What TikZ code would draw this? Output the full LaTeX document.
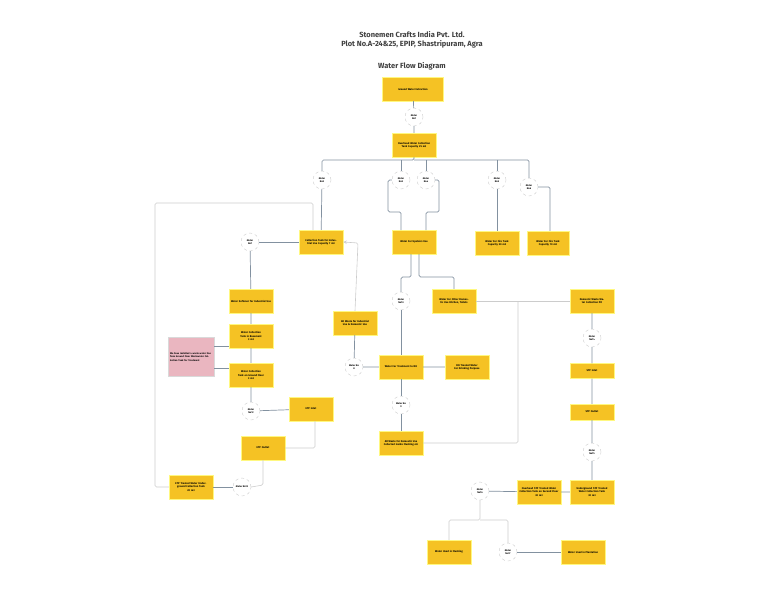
\documentclass[tikz,border=0pt]{standalone}
\usepackage{fontspec}
\setmainfont{Fira Sans}
\begin{document}
\begin{tikzpicture}[x=1bp,y=-1bp,
 box/.style={draw=yellow!50!white,fill={rgb,255:red,245;green,194;blue,36},minimum width=44bp,minimum height=24bp,inner sep=1bp,align=center,font=\fontsize{2.6}{3.2}\selectfont\bfseries,text width=40bp},
 mtr/.style={circle,draw=gray!40,dashed,fill=white,minimum size=18bp,inner sep=0pt,align=center,font=\fontsize{2.4}{3}\selectfont\bfseries},
 ln/.style={draw={rgb,255:red,130;green,145;blue,160},line width=0.7bp,rounded corners=1.5bp},
 lt/.style={draw=gray!40,line width=0.6bp,rounded corners=1.5bp}]
\useasboundingbox (0,0) rectangle (768,594);
\node[font=\fontsize{7.5}{9}\selectfont\bfseries,text=black!75,align=center] (t1) at (412,40) {Stonemen Crafts India Pvt. Ltd.\\Plot No.A-24\&25, EPIP, Shastripuram, Agra};
\node[font=\fontsize{7.5}{9}\selectfont\bfseries,text=black!75] (t2) at (412,66) {Water Flow Diagram};
\node[box,minimum width=61bp] (A) at (413,89) {Ground Water Extraction};
\node[mtr] (m1) at (414,117) {Meter\\No1};
\node[box] (B) at (414,145) {Overhead Water Collection\\Tank Capacity 25 m3};
\node[mtr] (m2) at (322,180) {Meter\\No2};
\node[mtr] (m3) at (401,180) {Meter\\No3};
\node[mtr] (m4) at (426,180) {Meter\\No4};
\node[mtr] (m5) at (497,180) {Meter\\No5};
\node[mtr] (m6) at (529,187) {Meter\\No6};
\node[box] (C) at (321,242) {Collection Tank for Industrial Use Capacity 7 m3};
\node[mtr] (m7) at (250,242) {Meter\\No7};
\node[box] (U) at (414,242) {Water For Upstairs Use};
\node[box] (F1) at (497,243) {Water For Fire Tank Capacity 20 m3};
\node[box,minimum width=42bp] (F2) at (548,243) {Water For Fire Tank Capacity 10 m3};
\node[box] (S) at (251,301) {Water Softener for Industrial Use};
\node[box] (CB) at (251,336) {Water Collection Tank in Basement\\3 m3};
\node[box] (CG) at (251,375) {Water Collection Tank on Ground Floor\\3 m3};
\node[draw=gray!30,fill={rgb,255:red,234;green,182;blue,192},minimum width=46bp,minimum height=39bp,text width=42bp,inner sep=1bp,align=left,font=\fontsize{2.4}{3.2}\selectfont\bfseries] (note) at (191,357) {We have installed a waste water line from Ground Floor Wastewater Collection Tank for Treatment};
\node[mtr] (m12) at (251,411) {Meter\\No12};
\node[box] (EI) at (311,409) {ETP Inlet};
\node[box] (EO) at (263,448) {ETP Outlet};
\node[mtr] (m13) at (242,487) {Meter No13};
\node[box] (ET) at (191,487) {ETP Treated Water Underground Collection Tank\\20 m3};
\node[box] (AW) at (355,323) {All Waste for Industrial Use \& Domestic Use};
\node[mtr] (m8) at (354,367) {Meter No\\8};
\node[box] (RO) at (401,367) {Water For Treatment to RO};
\node[box] (ROD) at (467,367) {RO Treated Water For Drinking Purpose};
\node[mtr] (m10) at (401,301) {Meter\\No10};
\node[box] (OD) at (454,301) {Water For Other Domestic Use Kitchen, Toilets};
\node[mtr] (m9) at (401,405) {Meter No\\9};
\node[box] (AD) at (401,443) {All Waste for Domestic Use Collected inside Flushing etc};
\node[box] (DP) at (592,301) {Domestic Waste Water Collection Pit};
\node[mtr] (m14) at (592,338) {Meter\\No14};
\node[box,minimum height=15bp] (SI) at (592,371) {STP Inlet};
\node[box,minimum height=16bp] (SO) at (592,412) {STP Outlet};
\node[mtr] (m15) at (592,452) {Meter\\No15};
\node[box] (UT) at (592,492) {Underground STP Treated Water Collection Tank\\30 m3};
\node[box] (OT) at (539,492) {Overhead STP Treated Water Collection Tank on Second Floor\\30 m3};
\node[mtr] (m16) at (480,491) {Meter\\No16};
\node[box] (FL) at (449,552) {Water Used in Flushing};
\node[mtr] (m17) at (508,552) {Meter\\No17};
\node[box] (PL) at (583,552) {Water Used in Plantation};
% connectors
\path[ln] (A) -- (m1) -- (B);
\path[ln] (B.south) -- (414,160) -- (322,160) -- (m2);
\path[ln] (414,160) -- (529,160) -- (m6);
\path[ln] (401,160) -- (m3); \path[ln] (426,160) -- (m4); \path[ln] (497,160) -- (m5);
\path[ln] (m2) -- (C);
\path[ln] (m3.west) -- (388,180) -- (388,212) -- (401,212) -- (401,230);
\path[ln] (m4.east) -- (439,180) -- (439,212) -- (426,212) -- (426,230);
\path[ln] (m5) -- (F1);
\path[ln] (m6.east) -- (550,187) -- (F2.north -| 550,0);
\path[ln] (C) -- (m7); \path[ln] (m7) -- (S) -- (CB) -- (CG) -- (m12);
\path[lt] (313,230) -- (313,203) -- (155,203) -- (155,487) -- (ET.west);
\path[ln] (note.east |- CB.west) ++(0,10) -- (CB.west |- 0,346);
\path[ln] (note.east |- 0,368) -- (CG.west |- 0,368);
\path[ln] (m12) -- (EI);
\path[lt] (315,421) -- (315,448) -- (EO.east);
\path[lt] (EO.south) -- (263,485) -- (m13.east);
\path[ln] (m13) -- (ET);
\draw[lt,->,>=stealth] (AW.north) -- (358,243) -- (C.east);
\path[ln] (AW) -- (m8) -- (RO) -- (ROD);
\path[ln] (411,254) -- (411,277) -- (401,277) -- (m10);
\path[ln] (419,254) -- (419,277) -- (454,277) -- (OD.north);
\path[ln] (m10) -- (RO) -- (m9) -- (AD);
\path[lt] (OD.east) -- (DP.west);
\path[lt] (AD.east) -- (518,443) -- (518,301);
\path[ln] (DP) -- (m14) -- (SI) -- (SO) -- (m15) -- (UT) -- (OT) -- (m16);
\path[lt] (m16.south) -- (480,520) -- (449,520) -- (FL.north);
\path[lt] (480,520) -- (508,520) -- (m17.north);
\path[ln] (m17) -- (PL);
\end{tikzpicture}
\end{document}
